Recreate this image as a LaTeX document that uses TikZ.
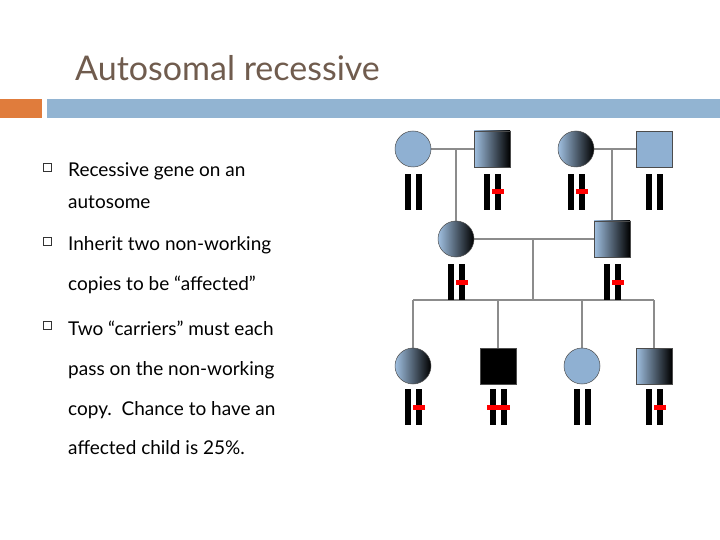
\documentclass[tikz,border=0pt]{standalone}
\usepackage{fontspec}
\setmainfont{Lato}
\definecolor{plc}{RGB}{143,176,210}
\definecolor{grl}{RGB}{160,192,225}
\definecolor{ttl}{RGB}{112,92,78}
\definecolor{org}{RGB}{224,124,60}
\definecolor{blu}{RGB}{146,180,210}
\begin{document}
\begin{tikzpicture}[x=1pt,y=-1pt,
  ln/.style={draw=gray!90,line width=1.5pt},
  pl/.style={draw=black!70,fill=plc,line width=0.5pt},
  gr/.style={draw=black!70,left color=grl,middle color=grl!70!black,right color=black,line width=0.5pt},
  fem/.style={circle,minimum size=36pt,inner sep=0pt},
  mal/.style={rectangle,minimum size=36pt,inner sep=0pt},
  txt/.style={anchor=base west,font=\fontsize{19}{19}\selectfont,inner sep=0pt}]
\useasboundingbox (0,0) rectangle (720,540);
\fill[white] (0,0) rectangle (720,540);
\node[anchor=base west,inner sep=0pt,text=ttl,font=\fontsize{34}{34}\selectfont] (title) at (75,81) {Autosomal recessive};
\fill[org] (0,99) rectangle (42,118);
\fill[blu] (47,99) rectangle (720,118);
% bullets
\foreach \y in {171,245,329}{\draw[black!80,line width=0.6pt] (43,\y-8) rectangle (51,\y);}
\node[txt] (t1) at (68,177) {Recessive gene on an};
\node[txt] (t2) at (68,208) {autosome};
\node[txt] (t3) at (68,251) {Inherit two non-working};
\node[txt] (t4) at (68,290) {copies to be “affected”};
\node[txt] (t5) at (68,335) {Two “carriers” must each};
\node[txt] (t6) at (68,375) {pass on the non-working};
\node[txt] (t7) at (68,415) {copy.\ \ Chance to have an};
\node[txt] (t8) at (68,454) {affected child is 25\%.};
% lines
\coordinate (m1) at (456,149); \coordinate (m2) at (612,149);
\coordinate (m3) at (533,239); \coordinate (s) at (533,300);
\coordinate (sl) at (413,300); \coordinate (sr) at (654,300);
\draw[ln] (413,149) -- (492,149);
\draw[ln] (576,149) -- (654,149);
\draw[ln] (m1) -- (456,239);
\draw[ln] (m2) -- (612,239);
\draw[ln] (456,239) -- (612,239);
\draw[ln] (m3) -- (s);
\draw[ln] (sl) -- (sr);
\foreach \x in {413,498,582,654}{\draw[ln] (\x,300) -- (\x,366);}
% symbols
\node[fem,pl] (a1) at (413,149) {};
\node[mal,gr] (a2) at (492,149) {};
\node[fem,gr] (a3) at (576,149) {};
\node[mal,pl] (a4) at (654,149) {};
\node[fem,gr] (b1) at (456,239) {};
\node[mal,gr] (b2) at (612,239) {};
\node[fem,gr] (c1) at (413,366) {};
\node[mal,fill=black,draw=black!70] (c2) at (498,366) {};
\node[fem,pl] (c3) at (582,366) {};
\node[mal,gr] (c4) at (654,366) {};
% chromosomes
\foreach \x/\t/\r in {413/174/0,492/174/1,576/174/1,654/174/0,456/264/1,612/264/1,413/389/1,498/389/2,582/389/0,654/389/1}{
  \fill[black] (\x-8.5,\t) rectangle (\x-2.5,\t+36);
  \fill[black] (\x+2.5,\t) rectangle (\x+8.5,\t+36);
  \ifnum\r=1 \fill[red] (\x-0.5,\t+15.5) rectangle (\x+11.5,\t+20.5);\fi
  \ifnum\r=2 \fill[red] (\x-11.5,\t+15.5) rectangle (\x+11.5,\t+20.5);\fi
}
\end{tikzpicture}
\end{document}
